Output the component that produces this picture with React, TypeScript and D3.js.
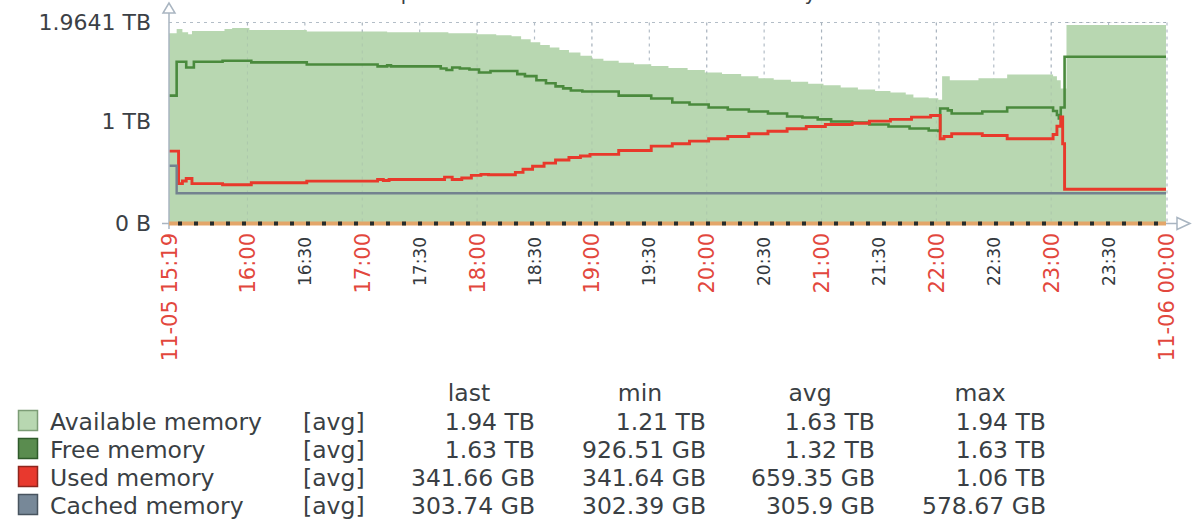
import React from 'react';
import * as d3 from 'd3';

const FONT = '"DejaVu Sans", sans-serif';

// times are HH:MM from 11-05 15:19; anything before noon is on 11-06
const availableTimes = ['15:19', '15:23', '15:26', '15:29', '15:31', '15:48', '15:52', '16:01', '16:31', '17:13', '17:45', '18:00', '18:10', '18:18', '18:23', '18:28', '18:33', '18:38', '18:43', '18:48', '18:54', '19:00', '19:06', '19:14', '19:22', '19:31', '19:40', '19:50', '19:59', '20:08', '20:18', '20:27', '20:35', '20:44', '20:53', '21:01', '21:10', '21:19', '21:28', '21:36', '21:44', '21:48', '21:56', '22:01', '22:03', '22:07', '22:22', '22:37', '23:01', '23:03', '23:05', '23:08', '00:00'];
const availableValues = [1.86, 1.9, 1.87, 1.85, 1.88, 1.9, 1.91, 1.89, 1.875, 1.87, 1.86, 1.85, 1.84, 1.83, 1.8, 1.77, 1.745, 1.72, 1.695, 1.67, 1.64, 1.61, 1.59, 1.57, 1.555, 1.54, 1.52, 1.5, 1.476, 1.46, 1.44, 1.42, 1.405, 1.385, 1.365, 1.35, 1.33, 1.31, 1.295, 1.28, 1.26, 1.232, 1.225, 1.21, 1.44, 1.4, 1.42, 1.455, 1.44, 1.4, 1.32, 1.94, 1.94];

const freeTimes = ['15:19', '15:23', '15:28', '15:32', '15:47', '16:02', '16:31', '17:08', '17:13', '17:15', '17:41', '17:44', '17:47', '17:51', '17:56', '18:01', '18:07', '18:21', '18:25', '18:31', '18:36', '18:41', '18:45', '18:49', '18:55', '19:14', '19:31', '19:42', '19:51', '20:01', '20:11', '20:22', '20:32', '20:42', '20:50', '20:58', '21:05', '21:16', '21:25', '21:35', '21:46', '21:56', '22:01', '22:02', '22:06', '22:08', '22:24', '22:37', '23:01', '23:03', '23:04', '23:05', '23:07', '00:00'];
const freeValues = [1.25, 1.58, 1.525, 1.58, 1.59, 1.574, 1.554, 1.535, 1.545, 1.535, 1.515, 1.5, 1.525, 1.515, 1.505, 1.476, 1.49, 1.46, 1.44, 1.4, 1.37, 1.34, 1.32, 1.3, 1.29, 1.25, 1.222, 1.183, 1.163, 1.134, 1.114, 1.095, 1.075, 1.046, 1.036, 1.017, 0.997, 0.987, 0.968, 0.948, 0.929, 0.909, 0.905, 1.124, 1.105, 1.075, 1.095, 1.134, 1.1, 1.06, 1.026, 1.134, 1.63, 1.63];

const usedTimes = ['15:19', '15:24', '15:26', '15:28', '15:31', '15:47', '16:02', '16:31', '17:08', '17:11', '17:14', '17:43', '17:47', '17:52', '17:57', '18:02', '18:06', '18:20', '18:24', '18:29', '18:35', '18:41', '18:48', '18:54', '18:59', '19:14', '19:31', '19:42', '19:51', '20:01', '20:11', '20:22', '20:32', '20:42', '20:52', '21:02', '21:16', '21:25', '21:36', '21:47', '21:57', '22:02', '22:04', '22:08', '22:24', '22:37', '23:01', '23:03', '23:05', '23:06', '23:07', '00:00'];
const usedValues = [0.707, 0.39, 0.415, 0.44, 0.39, 0.378, 0.398, 0.414, 0.43, 0.42, 0.43, 0.453, 0.43, 0.445, 0.47, 0.48, 0.476, 0.5, 0.53, 0.56, 0.59, 0.62, 0.645, 0.66, 0.675, 0.713, 0.756, 0.779, 0.805, 0.828, 0.85, 0.877, 0.902, 0.926, 0.948, 0.968, 0.98, 1.0, 1.017, 1.039, 1.056, 0.828, 0.85, 0.877, 0.86, 0.828, 0.87, 0.95, 1.04, 0.78, 0.334, 0.334];

const cachedTimes = ['15:19', '15:23', '00:00'];
const cachedValues = [0.565, 0.296, 0.296];

const yTickValues = [0, 1, 1.9641];
const yTickLabels = ['0 B', '1 TB', '1.9641 TB'];

const seriesNames = ['Available memory', 'Free memory', 'Used memory', 'Cached memory'];
const seriesFuncs = ['[avg]', '[avg]', '[avg]', '[avg]'];
const statHeaders = ['last', 'min', 'avg', 'max'];
const lastValues = ['1.94 TB', '1.63 TB', '341.66 GB', '303.74 GB'];
const minValues = ['1.21 TB', '926.51 GB', '341.64 GB', '302.39 GB'];
const avgValues = ['1.63 TB', '1.32 TB', '659.35 GB', '305.9 GB'];
const maxValues = ['1.94 TB', '1.63 TB', '1.06 TB', '578.67 GB'];

const seriesFill = ['#b8d7b1', '#5a8c4f', '#e8392e', '#778898'];
const seriesEdge = ['#7c9c76', '#2f5a2a', '#8e261e', '#48545f'];

const parseTime = (s: string) => {
  const [h, m] = s.split(':').map(Number);
  return new Date(2023, 10, h < 12 ? 6 : 5, h, m);
};

type Pt = { t: Date; v: number };
const toPoints = (times: string[], values: number[]): Pt[] =>
  times.map((s, i) => ({ t: parseTime(s), v: values[i] }));

const App: React.FC = () => {
  const svgRef = React.useRef<SVGSVGElement>(null);

  React.useEffect(() => {
    if (!svgRef.current) return;
    const svg = d3.select(svgRef.current);
    svg.selectAll('*').remove();

    const x = d3.scaleTime()
      .domain([parseTime('15:19'), parseTime('00:00')])
      .range([169, 1166]);
    const y = d3.scaleLinear().domain([0, 1.9641]).range([223.5, 22.5]);

    const [x0, x1] = x.range();
    const yBottom = y(0);
    const yTop = y(1.9641);

    // title, mostly cut off by the top edge (as in the source image)
    svg.append('text')
      .attr('x', 356).attr('y', 0)
      .attr('font-family', FONT).attr('font-size', 19.6)
      .attr('fill', '#3a3f44')
      .text('Compute host 17 - Total and available memory');

    const ticks = x.ticks(d3.timeMinute.every(30) as d3.TimeInterval)
      .filter(d => d >= parseTime('16:00') && d < parseTime('00:00'));

    // grid
    const grid = svg.append('g')
      .attr('stroke', '#b3bdc7').attr('stroke-width', 1.2)
      .attr('stroke-dasharray', '3,4').attr('fill', 'none');
    grid.append('line').attr('x1', x0).attr('x2', x1 + 1).attr('y1', yTop).attr('y2', yTop);
    grid.selectAll('.v').data([...ticks, parseTime('00:00')]).enter().append('line')
      .attr('x1', d => x(d) + (d.getHours() === 0 ? 1 : 0))
      .attr('x2', d => x(d) + (d.getHours() === 0 ? 1 : 0))
      .attr('y1', yTop).attr('y2', yBottom);

    const available = toPoints(availableTimes, availableValues);
    const area = d3.area<Pt>()
      .x(d => x(d.t)).y0(yBottom).y1(d => y(d.v))
      .curve(d3.curveStepAfter);
    svg.append('path').datum(available)
      .attr('d', area).attr('fill', seriesFill[0]);

    // faint hour lines over the area
    svg.append('g')
      .attr('stroke', '#7f8c99').attr('stroke-width', 1)
      .attr('stroke-dasharray', '3,4').attr('opacity', 0.2)
      .selectAll('line').data(ticks.filter(d => d.getMinutes() === 0)).enter().append('line')
      .attr('x1', d => x(d)).attr('x2', d => x(d)).attr('y1', yTop).attr('y2', yBottom);
    svg.append('line')
      .attr('x1', x(parseTime('23:08'))).attr('x2', x1).attr('y1', yTop).attr('y2', yTop)
      .attr('stroke', '#7f8c99').attr('stroke-dasharray', '3,4').attr('opacity', 0.35);

    const line = d3.line<Pt>().x(d => x(d.t)).y(d => y(d.v)).curve(d3.curveStepAfter);
    const lines = [
      { pts: toPoints(freeTimes, freeValues), color: '#4a8a3d', w: 2.6 },
      { pts: toPoints(usedTimes, usedValues), color: '#e8392b', w: 2.9 },
      { pts: toPoints(cachedTimes, cachedValues), color: '#73828f', w: 2.4 },
    ];
    lines.forEach(l => {
      svg.append('path').datum(l.pts)
        .attr('d', line).attr('fill', 'none')
        .attr('stroke', l.color).attr('stroke-width', l.w);
    });

    // axes
    const axisColor = '#a9b5c1';
    svg.append('line').attr('x1', 162).attr('x2', 1177).attr('y1', yBottom).attr('y2', yBottom)
      .attr('stroke', axisColor).attr('stroke-width', 1.5);
    svg.append('line').attr('x1', x0).attr('x2', x0).attr('y1', 13).attr('y2', 229)
      .attr('stroke', axisColor).attr('stroke-width', 1.5);
    svg.append('path').attr('d', `M${x0},3 L${x0 - 6},13 L${x0 + 6},13 Z`)
      .attr('fill', '#fff').attr('stroke', axisColor).attr('stroke-width', 1.5);
    svg.append('path').attr('d', `M1190,${yBottom} L1177,${yBottom - 6} L1177,${yBottom + 6} Z`)
      .attr('fill', '#fff').attr('stroke', axisColor).attr('stroke-width', 1.5);

    svg.append('line').attr('x1', x0).attr('x2', x1).attr('y1', yBottom).attr('y2', yBottom)
      .attr('stroke', '#e3a66a').attr('stroke-width', 4);
    svg.append('line').attr('x1', x0 + 9).attr('x2', x1).attr('y1', yBottom).attr('y2', yBottom)
      .attr('stroke', '#262c2c').attr('stroke-width', 4).attr('stroke-dasharray', '4,12');

    // y labels
    svg.append('g').selectAll('text').data(yTickValues).enter().append('text')
      .attr('x', 151).attr('y', d => y(d)).attr('dy', '0.36em')
      .attr('text-anchor', 'end')
      .attr('font-family', FONT).attr('font-size', 22)
      .attr('fill', '#3b4045')
      .text((d, i) => yTickLabels[i]);

    // x labels
    const fmt = d3.timeFormat('%H:%M');
    const fmtFull = d3.timeFormat('%m-%d %H:%M');
    const labels = [
      { t: parseTime('15:19'), text: fmtFull(parseTime('15:19')), red: true },
      ...ticks.map(t => ({ t, text: fmt(t), red: t.getMinutes() === 0 })),
      { t: parseTime('00:00'), text: fmtFull(parseTime('00:00')), red: true },
    ];
    svg.append('g').selectAll('text').data(labels).enter().append('text')
      .attr('transform', d => `translate(${x(d.t)},${d.red ? 233 : 237}) rotate(-90)`)
      .attr('dy', '0.36em')
      .attr('text-anchor', 'end')
      .attr('font-family', FONT)
      .attr('font-size', d => (d.red ? 21 : 17))
      .attr('fill', d => (d.red ? '#e2473d' : '#34393e'))
      .text(d => d.text);

    // legend
    const legend = svg.append('g')
      .attr('font-family', FONT).attr('font-size', 23.5).attr('fill', '#3a3f44');
    const headerX = [469, 640, 810, 980];
    legend.selectAll('.hdr').data(statHeaders).enter().append('text')
      .attr('x', (d, i) => headerX[i]).attr('y', 401)
      .attr('text-anchor', 'middle').text(d => d);

    const rowY = (i: number) => 430 + i * 28;
    const valueX = [535, 706, 875, 1046];
    const cols = [lastValues, minValues, avgValues, maxValues];
    seriesNames.forEach((name, i) => {
      legend.append('rect')
        .attr('x', 18.5).attr('y', rowY(i) - 19.5)
        .attr('width', 19).attr('height', 20)
        .attr('fill', seriesFill[i]).attr('stroke', seriesEdge[i]).attr('stroke-width', 1.5);
      legend.append('text').attr('x', 50).attr('y', rowY(i)).text(name);
      legend.append('text').attr('x', 303).attr('y', rowY(i)).text(seriesFuncs[i]);
      cols.forEach((col, j) => {
        legend.append('text')
          .attr('x', valueX[j]).attr('y', rowY(i))
          .attr('text-anchor', 'end').text(col[i]);
      });
    });
  }, []);

  return (
    <svg
      ref={svgRef}
      width={1194}
      height={522}
      style={{ position: 'absolute', left: 0, top: 0, background: '#fff' }}
    />
  );
};

export default App;
